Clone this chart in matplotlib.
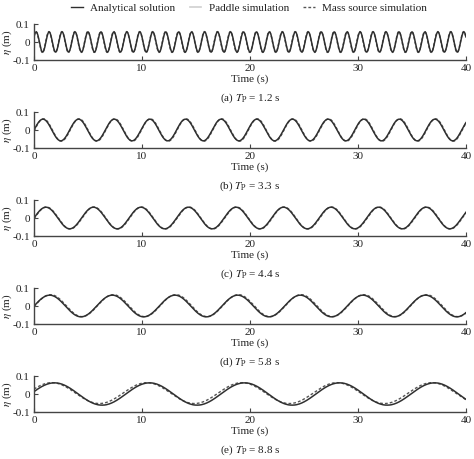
import numpy as np
import matplotlib
matplotlib.use("Agg")
import matplotlib.pyplot as plt
from matplotlib.lines import Line2D

plt.rcParams['font.family'] = ['Liberation Serif', 'DejaVu Serif']
plt.rcParams['mathtext.fontset'] = 'stix'
plt.rcParams['font.size'] = 8

# ---- data ----
panel_letters = ['(a)', '(b)', '(c)', '(d)', '(e)']
periods = [1.2, 3.3, 4.4, 5.8, 8.8]              # wave period T_P (s)
amp_analytical = [0.056, 0.060, 0.060, 0.060, 0.062]
shift_analytical = [-0.10, 0.00, 0.00, 0.00, -0.30]   # time shift (s)
amp_paddle = [0.056, 0.061, 0.060, 0.061, 0.062]
shift_paddle = [-0.10, 0.02, 0.02, 0.03, -0.30]
amp_mass = [0.058, 0.062, 0.061, 0.061, 0.058]
shift_mass = [-0.12, 0.05, 0.05, 0.08, -0.55]
offset_mass = [0.000, 0.000, 0.000, 0.002, 0.005]
xticks = [0, 10, 20, 30, 40]
yticks = [-0.1, 0, 0.1]
yticklabels = ['-0.1', '0', '0.1']
legend_labels = ['Analytical solution', 'Paddle simulation', 'Mass source simulation']

W, H = 474, 459
fig = plt.figure(figsize=(W / 100, H / 100), dpi=100)

c_ana = '#2e2e2e'
c_pad = '#cfcfcf'
c_mass = '#555555'
c_axis = '#444444'
c_txt = '#222222'
fs = 8

tops = [24, 112, 200, 288, 376]
ax_h = 36
left, right = 34, 466
t = np.linspace(0, 40, 3000)

for i in range(5):
    top = tops[i]
    ax = fig.add_axes([left / W, 1 - (top + ax_h) / H, (right - left) / W, ax_h / H])
    T = periods[i]
    y_pad = amp_paddle[i] * np.sin(2 * np.pi * (t - shift_paddle[i]) / T)
    y_mass = offset_mass[i] + amp_mass[i] * np.sin(2 * np.pi * (t - shift_mass[i]) / T)
    y_ana = amp_analytical[i] * np.sin(2 * np.pi * (t - shift_analytical[i]) / T)
    ax.plot(t, y_pad, color=c_pad, lw=1.2)
    ax.plot(t, y_mass, color=c_mass, lw=1.0, ls=(0, (2, 1.5)))
    ax.plot(t, y_ana, color=c_ana, lw=1.0)
    ax.set_xlim(0, 40)
    ax.set_ylim(-0.1, 0.1)
    ax.set_xticks(xticks)
    ax.set_xticklabels([str(v) for v in xticks])
    ax.set_yticks(yticks)
    ax.set_yticklabels(yticklabels)
    for s in ['top', 'right']:
        ax.spines[s].set_visible(False)
    for s in ['left', 'bottom']:
        ax.spines[s].set_color(c_axis)
        ax.spines[s].set_linewidth(1.0)
    ax.tick_params(direction='in', length=3, width=0.8, color=c_axis, pad=3,
                   labelsize=fs, labelcolor=c_txt)
    ax.set_xlabel('Time (s)', fontsize=fs, labelpad=1, color=c_txt)
    ax.set_ylabel(r'$\eta$ (m)', fontsize=fs, color=c_txt)
    ax.yaxis.set_label_coords(-(34 - 14) / (right - left), 0.5)
    fig.text(0.5 * (left + right) / W, 1 - (top + ax_h + 38) / H,
             panel_letters[i] + r' $T_{\rm P}$ = ' + f'{T} s',
             ha='center', va='center', fontsize=fs, color=c_txt)

handles = [Line2D([], [], color=c_ana, lw=1.0),
           Line2D([], [], color=c_pad, lw=1.2),
           Line2D([], [], color=c_mass, lw=1.0, ls=(0, (2, 1.5)))]
fig.legend(handles, legend_labels, loc='center', bbox_to_anchor=(0.526, 1 - 8 / H),
           ncol=3, frameon=False, fontsize=fs, handlelength=1.0,
           handletextpad=0.7, columnspacing=1.3, labelcolor=c_txt)

fig.savefig('out.png', dpi=100)
